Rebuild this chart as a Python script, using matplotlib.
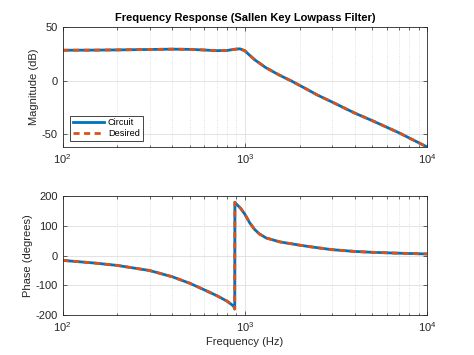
import matplotlib
matplotlib.use("Agg")
import matplotlib.pyplot as plt

plt.rcParams['font.family'] = ['Liberation Sans', 'DejaVu Sans']
plt.rcParams['axes.unicode_minus'] = False

# magnitude response
mag_freq = [100, 150, 200, 300, 400, 500, 600, 700, 800, 850, 900, 940, 1000,
            1060, 1135, 1300, 1530, 1810, 2150, 2500, 3000, 4000, 5000, 7000, 10000]
mag_db = [28.3, 28.4, 28.6, 29.0, 29.3, 29.1, 28.5, 27.9, 28.1, 28.8, 29.4, 29.6, 27.8,
          23.8, 19.3, 12.2, 5.5, -0.6, -7.4, -13.5, -19.9, -30.3, -37.4, -48.7, -62.0]

# phase response
ph_freq = [100, 150, 200, 300, 400, 500, 600, 700, 800, 850, 873, 880,
           882, 892, 950, 1000, 1061, 1130, 1200, 1311, 1556, 2000, 2266, 3000, 4000, 5000, 7000, 10000]
ph_deg = [-16, -25, -33, -50, -71, -93, -115, -134, -153, -165, -172, -179,
          179, 175, 158, 139, 111, 88, 73, 59, 46, 35, 30, 20, 14, 11, 8, 5.5]

blue = '#0072BD'
orange = '#D95319'
dark = '#262626'

fig = plt.figure(figsize=(4.74, 3.55), dpi=100)
ax1 = fig.add_axes([0.132, 0.586, 0.769, 0.338])
ax2 = fig.add_axes([0.132, 0.112, 0.769, 0.336])


def style(ax):
    ax.set_xscale('log')
    ax.set_xlim(100, 10000)
    ax.grid(True, which='major', color='#dedede', linewidth=0.6)
    ax.grid(True, which='minor', color='#d8d8d8', linewidth=0.6, linestyle=':')
    ax.tick_params(which='both', direction='in', top=True, right=True,
                   colors=dark, labelsize=8, width=0.5)
    ax.tick_params(which='major', length=3)
    ax.tick_params(which='minor', length=1.8)
    ax.tick_params(axis='y', which='minor', left=False, right=False)
    for s in ax.spines.values():
        s.set_color(dark)
        s.set_linewidth(0.6)


ax1.plot(mag_freq, mag_db, color=blue, lw=2, label='Circuit')
ax1.plot(mag_freq, mag_db, color=orange, lw=2, dashes=(2.2, 1.6), label='Desired')
style(ax1)
ax1.set_ylim(-62, 50)
ax1.set_yticks([-50, 0, 50])
ax1.set_ylabel('Magnitude (dB)', fontsize=8, color=dark, labelpad=2)
ax1.set_title('Frequency Response (Sallen Key Lowpass Filter)', fontsize=8,
              fontweight='bold', pad=4)
leg = ax1.legend(loc='lower left', bbox_to_anchor=(0.02, 0.05), borderaxespad=0,
                 fontsize=6.6, fancybox=False, framealpha=1, edgecolor=dark,
                 handlelength=3.4, handletextpad=0.45, borderpad=0.3, labelspacing=0.2)
leg.get_frame().set_linewidth(0.6)

ax2.plot(ph_freq, ph_deg, color=blue, lw=2)
ax2.plot(ph_freq, ph_deg, color=orange, lw=2, dashes=(2.2, 1.6))
style(ax2)
ax2.set_ylim(-200, 200)
ax2.set_yticks([-200, -100, 0, 100, 200])
ax2.set_ylabel('Phase (degrees)', fontsize=8, color=dark, labelpad=2)
ax2.set_xlabel('Frequency (Hz)', fontsize=8, color=dark, labelpad=2)

fig.savefig('out.png', dpi=100)
